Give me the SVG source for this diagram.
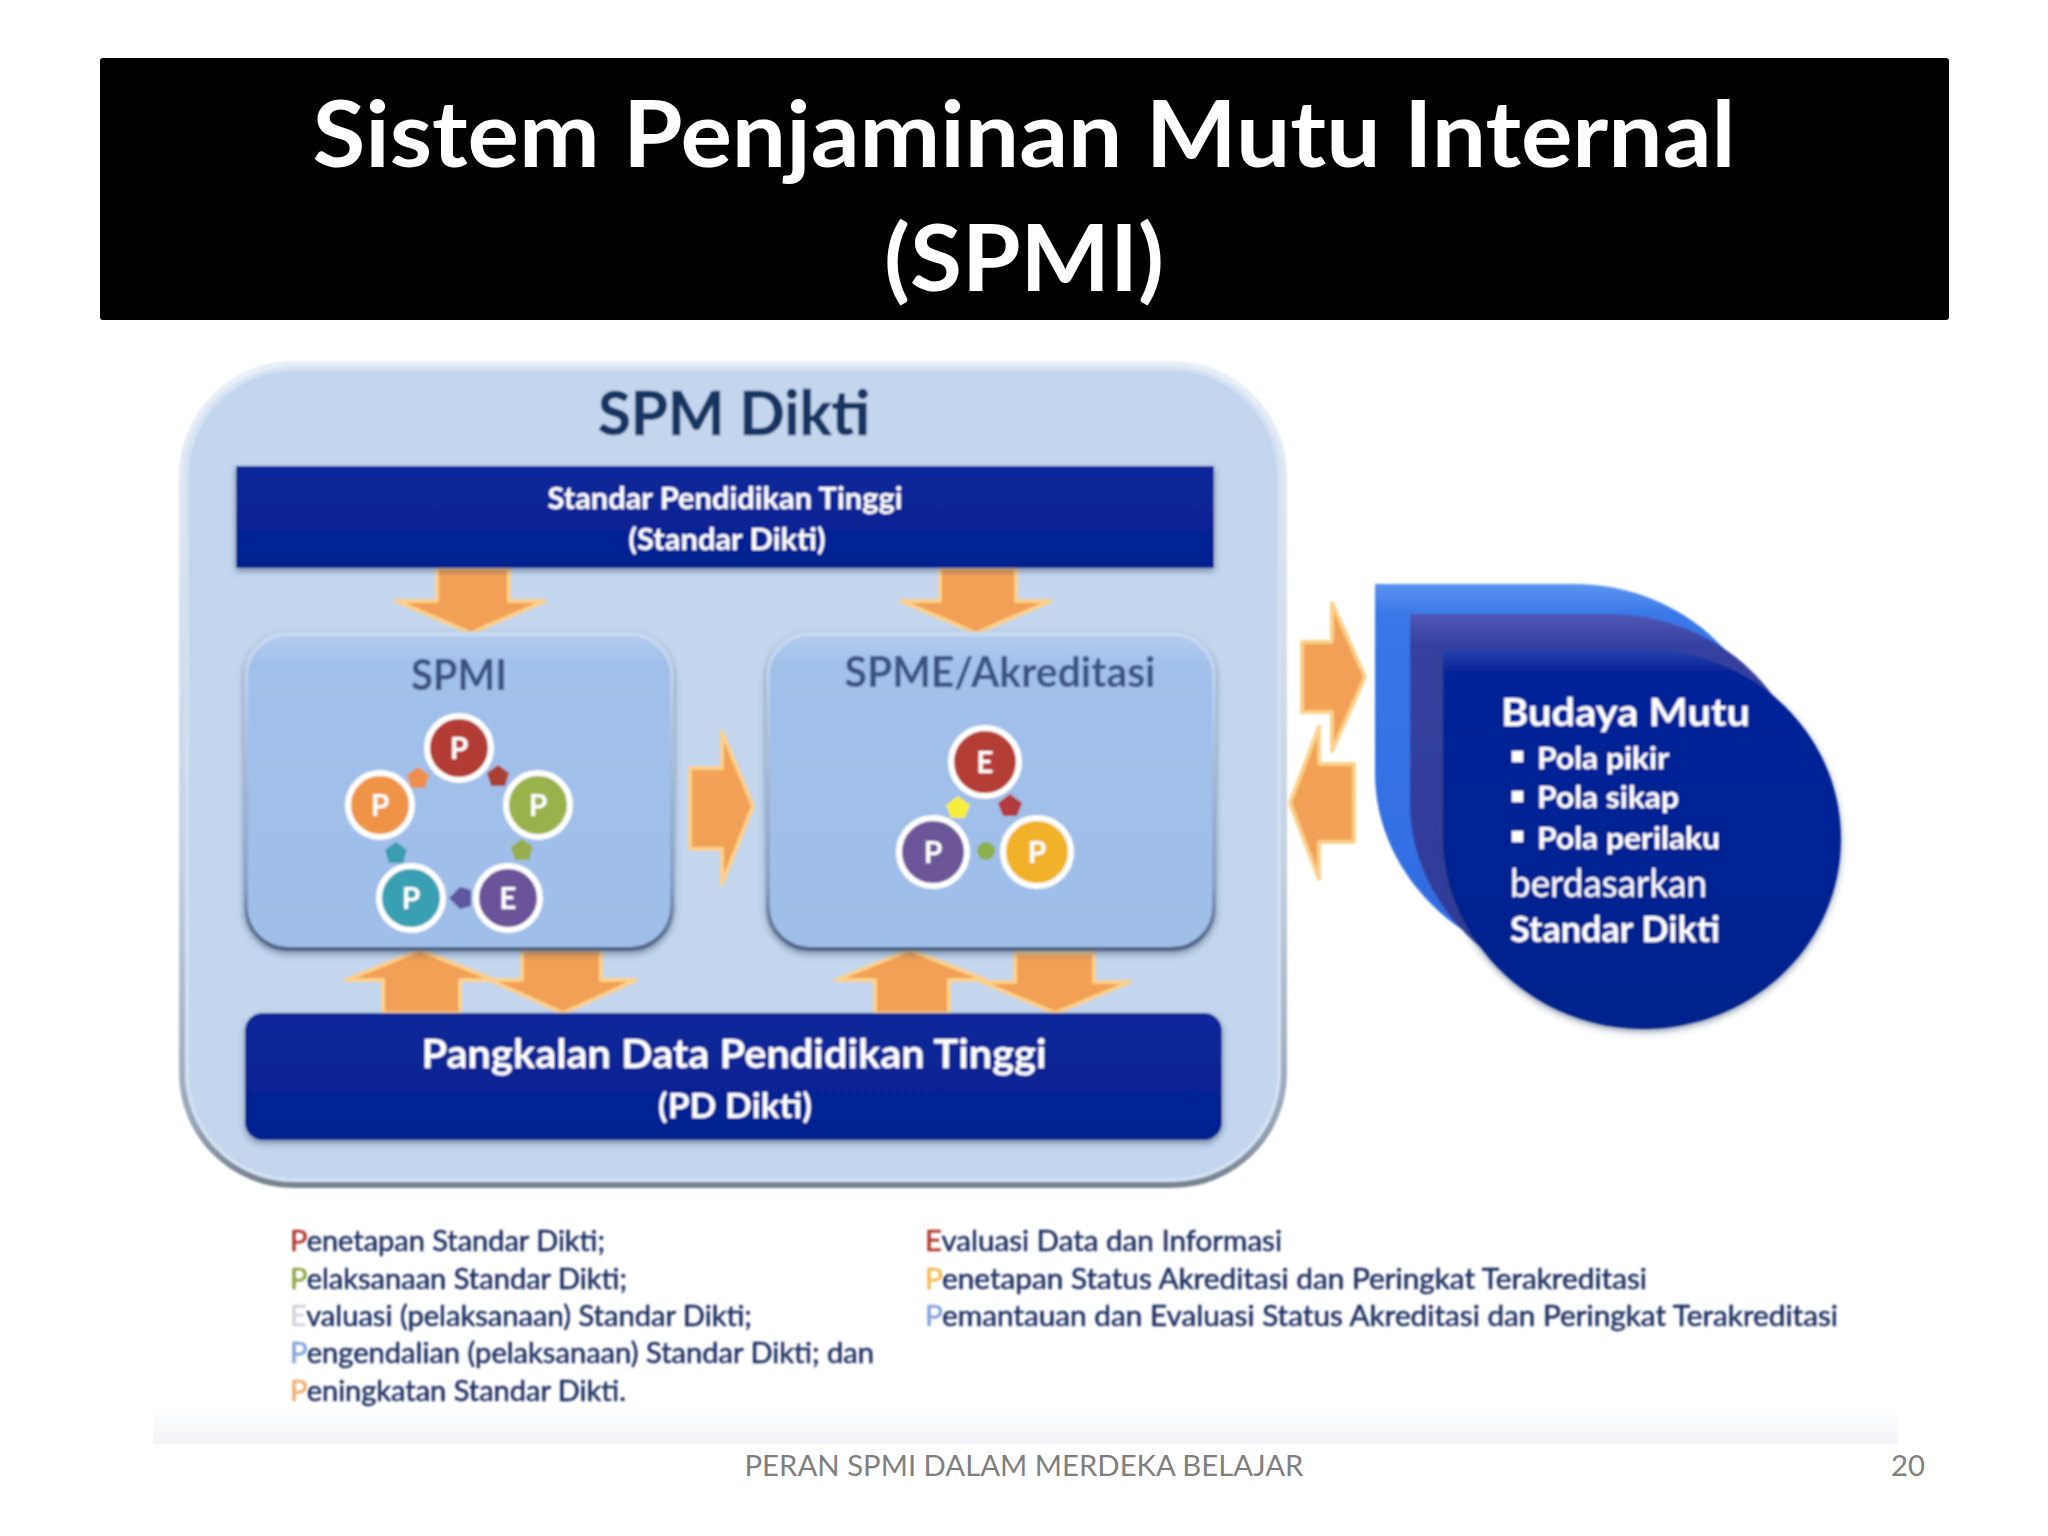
<svg xmlns="http://www.w3.org/2000/svg" width="2048" height="1536" viewBox="0 0 2048 1536">
<defs>
<style>
text{font-family:"Lato","Liberation Sans",sans-serif}
.title{font-size:92px;font-weight:700;fill:#fff;text-anchor:middle}
.w{fill:#fff;font-weight:700}
.c{text-anchor:middle}
.head{fill:#183663;font-weight:700;stroke:#183663;stroke-width:.6}
.sub{fill:#3b5283;font-weight:700;font-size:42px}
.l{fill:#1f2e60;font-size:29px;stroke:#1f2e60;stroke-width:.5}
.foot{fill:#7f7f7f;font-size:29px}
.let{fill:#fff;font-size:30px;font-weight:700;text-anchor:middle}
.ring{stroke:#fff;stroke-width:6}
.arrow{fill:#f2a055;stroke:#fbd08a;stroke-width:4;stroke-linejoin:round}
.r{fill:#b03a30;stroke:#b03a30}.g{fill:#8fa84a;stroke:#8fa84a}.e{fill:#d4d2de;stroke:#d4d2de}.b{fill:#83a3dc;stroke:#83a3dc}.o{fill:#f2ac6c;stroke:#f2ac6c}.y{fill:#f3bc50;stroke:#f3bc50}
</style>
<linearGradient id="outerS" x1="0" y1="0" x2="0" y2="1"><stop offset="0" stop-color="#e6eef8"/><stop offset=".6" stop-color="#c4d2e4"/><stop offset=".92" stop-color="#98a6b8"/><stop offset="1" stop-color="#77828f"/></linearGradient>
<linearGradient id="innerF" x1="0" y1="0" x2="0" y2="1"><stop offset="0" stop-color="#b4cdee"/><stop offset=".1" stop-color="#a1c0ea"/><stop offset="1" stop-color="#9fbee8"/></linearGradient>
<linearGradient id="innerS" x1="0" y1="0" x2="0" y2="1"><stop offset="0" stop-color="#c8daf2"/><stop offset=".8" stop-color="#86a0c8"/><stop offset="1" stop-color="#4f6383"/></linearGradient>
<linearGradient id="bar" x1="0" y1="0" x2="0" y2="1"><stop offset="0" stop-color="#08269a"/><stop offset="1" stop-color="#062390"/></linearGradient>
<linearGradient id="strip" x1="0" y1="0" x2="0" y2="1"><stop offset="0" stop-color="#ffffff"/><stop offset="1" stop-color="#f3f4f8"/></linearGradient>
<linearGradient id="d1" x1="0" y1="0" x2="0" y2="1"><stop offset="0" stop-color="#5b93ee"/><stop offset=".08" stop-color="#3a78e8"/><stop offset="1" stop-color="#2f6be0"/></linearGradient>
<linearGradient id="d2" x1="0" y1="0" x2="0" y2="1"><stop offset="0" stop-color="#5058b8"/><stop offset=".08" stop-color="#36419f"/><stop offset="1" stop-color="#2e3a99"/></linearGradient>
<linearGradient id="d3" x1="0" y1="0" x2="0" y2="1"><stop offset="0" stop-color="#2a45ad"/><stop offset=".06" stop-color="#05239a"/><stop offset="1" stop-color="#04208c"/></linearGradient>
<filter id="soft" x="-5%" y="-5%" width="110%" height="110%"><feGaussianBlur stdDeviation="1.1"/></filter>
<filter id="shadow" x="-5%" y="-5%" width="110%" height="112%"><feDropShadow dx="0" dy="3" stdDeviation="3" flood-color="#2c3f60" flood-opacity=".5"/></filter>
<path id="drop" d="M0 0H199C310 0 398 85 398 190C398 295 310 380 199 380C90 380 0 290 0 190Z"/>
</defs>
<rect width="2048" height="1536" fill="#fff"/>
<g id="banner">
<rect x="100" y="58" width="1849" height="262" rx="3" fill="#000"/>
<text class="title" x="1024" y="167" textLength="1423" lengthAdjust="spacingAndGlyphs">Sistem Penjaminan Mutu Internal</text>
<text class="title" x="1024" y="291" textLength="280" lengthAdjust="spacingAndGlyphs">(SPMI)</text>
</g>
<rect id="strip-bg" x="153" y="1404" width="1745" height="40" fill="url(#strip)"/>
<g filter="url(#soft)">
<g id="spm-dikti">
<rect x="182" y="364" width="1102" height="821" rx="112" fill="#c3d6ee" stroke="url(#outerS)" stroke-width="6"/>
<rect x="187" y="369" width="1092" height="811" rx="107" fill="none" stroke="#d6e3f3" stroke-width="3"/>
<text class="head c" x="734" y="435" font-size="62" textLength="272" lengthAdjust="spacingAndGlyphs">SPM Dikti</text>
</g>
<g id="connectors">
<polygon class="arrow" points="437,568 509,568 509,601 545,601 471,633 396,601 437,601"/>
<polygon class="arrow" points="940,568 1016,568 1016,601 1051,601 976,633 901,601 940,601"/>
<polygon class="arrow" points="690,768 722,768 722,732 753,806 722,884 722,849 690,849"/>
<polygon class="arrow" points="1302,642 1332,642 1332,603 1365,677 1332,751 1332,712 1302,712"/>
<polygon class="arrow" points="1354,764 1319,764 1319,727 1290,803 1319,879 1319,842 1354,842"/>
<polygon class="arrow" points="420,950 494,980 460,980 460,1013 383,1013 383,980 346,980"/>
<polygon class="arrow" points="522,950 601,950 601,980 636,980 563,1013 490,980 522,980"/>
<polygon class="arrow" points="910,950 986,980 949,980 949,1013 875,1013 875,980 836,980"/>
<polygon class="arrow" points="1015,953 1094,953 1094,982 1130,982 1055,1013 982,982 1015,982"/>
</g>
<g id="standar-dikti">
<rect x="236" y="466" width="978" height="102" fill="url(#bar)" filter="url(#shadow)"/>
<text class="w c" x="725" y="509" font-size="31" textLength="355" lengthAdjust="spacingAndGlyphs">Standar Pendidikan Tinggi</text>
<text class="w c" x="727" y="550" font-size="31" textLength="197" lengthAdjust="spacingAndGlyphs">(Standar Dikti)</text>
</g>
<g id="spmi">
<rect x="246" y="634" width="426" height="315" rx="42" fill="url(#innerF)" stroke="url(#innerS)" stroke-width="4" filter="url(#shadow)"/>
<text class="sub c" x="459" y="690" textLength="96" lengthAdjust="spacingAndGlyphs">SPMI</text>
<polygon points="418,767 429,775 425,788 411,788 407,775" fill="#ee8f4b"/>
<polygon points="498,765 509,773 505,786 491,786 487,773" fill="#a94030"/>
<polygon points="522,839 533,847 529,860 515,860 511,847" fill="#96ae4c"/>
<polygon points="449,898 460,887 471,890 471,906 460,909" fill="#5f56a0"/>
<polygon points="396,842 407,850 403,863 389,863 385,850" fill="#3a9eb0"/>
<g id="spmi-p1"><circle class="ring" cx="459" cy="748" r="32" fill="#b33c34"/><text class="let" x="459" y="759">P</text></g>
<g id="spmi-p2"><circle class="ring" cx="538" cy="805" r="32" fill="#9ab24c"/><text class="let" x="538" y="816">P</text></g>
<g id="spmi-p3"><circle class="ring" cx="380" cy="805" r="32" fill="#ef9446"/><text class="let" x="380" y="816">P</text></g>
<g id="spmi-e"><circle class="ring" cx="508" cy="898" r="32" fill="#6b5299"/><text class="let" x="508" y="909">E</text></g>
<g id="spmi-p4"><circle class="ring" cx="411" cy="898" r="32" fill="#37a0b2"/><text class="let" x="411" y="909">P</text></g>
</g>
<g id="spme">
<rect x="768" y="634" width="446" height="315" rx="42" fill="url(#innerF)" stroke="url(#innerS)" stroke-width="4" filter="url(#shadow)"/>
<text class="sub c" x="1000" y="687" textLength="311" lengthAdjust="spacingAndGlyphs">SPME/Akreditasi</text>
<polygon points="958,796 970,805 965,818 951,818 946,805" fill="#f6ee3c"/>
<polygon points="1010,794 1022,803 1017,816 1003,816 998,803" fill="#b23a3c"/>
<circle cx="986" cy="851" r="9" fill="#8cb04c"/>
<g id="spme-e"><circle class="ring" cx="985" cy="762" r="34" fill="#b43e36"/><text class="let" x="985" y="773">E</text></g>
<g id="spme-p1"><circle class="ring" cx="933" cy="852" r="34" fill="#6c5699"/><text class="let" x="933" y="863">P</text></g>
<g id="spme-p2"><circle class="ring" cx="1037" cy="852" r="34" fill="#f1b229"/><text class="let" x="1037" y="863">P</text></g>
</g>
<g id="pd-dikti">
<rect x="245" y="1013" width="977" height="127" rx="18" fill="url(#bar)" filter="url(#shadow)"/>
<text class="w c" x="734" y="1068" font-size="40" textLength="625" lengthAdjust="spacingAndGlyphs">Pangkalan Data Pendidikan Tinggi</text>
<text class="w c" x="735" y="1118" font-size="35" textLength="154" lengthAdjust="spacingAndGlyphs">(PD Dikti)</text>
</g>
<g id="budaya-mutu">
<use href="#drop" x="1375" y="584" fill="url(#d1)"/>
<use href="#drop" x="1410" y="614" fill="url(#d2)"/>
<use href="#drop" x="1443" y="649" fill="url(#d3)" filter="url(#shadow)"/>
<text class="w" x="1501" y="726" font-size="39" textLength="249" lengthAdjust="spacingAndGlyphs">Budaya Mutu</text>
<rect x="1512" y="751" width="11" height="11" fill="#fff"/>
<text class="w" x="1537" y="769" font-size="31" textLength="132" lengthAdjust="spacingAndGlyphs">Pola pikir</text>
<rect x="1512" y="791" width="11" height="11" fill="#fff"/>
<text class="w" x="1537" y="808" font-size="31" textLength="142" lengthAdjust="spacingAndGlyphs">Pola sikap</text>
<rect x="1512" y="831" width="11" height="11" fill="#fff"/>
<text class="w" x="1537" y="849" font-size="31" textLength="183" lengthAdjust="spacingAndGlyphs">Pola perilaku</text>
<text x="1510" y="897" fill="#fff" font-size="38" textLength="197" lengthAdjust="spacingAndGlyphs">berdasarkan</text>
<text class="w" x="1510" y="942" font-size="36" textLength="210" lengthAdjust="spacingAndGlyphs">Standar Dikti</text>
</g>
<g id="legend-spmi">
<text class="l" x="290" y="1251" textLength="315" lengthAdjust="spacingAndGlyphs"><tspan class="r">P</tspan>enetapan Standar Dikti;</text>
<text class="l" x="290" y="1289" textLength="337" lengthAdjust="spacingAndGlyphs"><tspan class="g">P</tspan>elaksanaan Standar Dikti;</text>
<text class="l" x="290" y="1326" textLength="462" lengthAdjust="spacingAndGlyphs"><tspan class="e">E</tspan>valuasi (pelaksanaan) Standar Dikti;</text>
<text class="l" x="290" y="1363" textLength="584" lengthAdjust="spacingAndGlyphs"><tspan class="b">P</tspan>engendalian (pelaksanaan) Standar Dikti; dan</text>
<text class="l" x="290" y="1401" textLength="336" lengthAdjust="spacingAndGlyphs"><tspan class="o">P</tspan>eningkatan Standar Dikti.</text>
</g>
<g id="legend-spme">
<text class="l" x="925" y="1251" textLength="357" lengthAdjust="spacingAndGlyphs"><tspan class="r">E</tspan>valuasi Data dan Informasi</text>
<text class="l" x="925" y="1289" textLength="722" lengthAdjust="spacingAndGlyphs"><tspan class="y">P</tspan>enetapan Status Akreditasi dan Peringkat Terakreditasi</text>
<text class="l" x="925" y="1326" textLength="913" lengthAdjust="spacingAndGlyphs"><tspan class="b">P</tspan>emantauan dan Evaluasi Status Akreditasi dan Peringkat Terakreditasi</text>
</g>
</g>
<g id="footer">
<text class="foot c" x="1024" y="1476" textLength="559" lengthAdjust="spacingAndGlyphs">PERAN SPMI DALAM MERDEKA BELAJAR</text>
<text class="foot" x="1891" y="1476" textLength="34" lengthAdjust="spacingAndGlyphs">20</text>
</g>
</svg>
